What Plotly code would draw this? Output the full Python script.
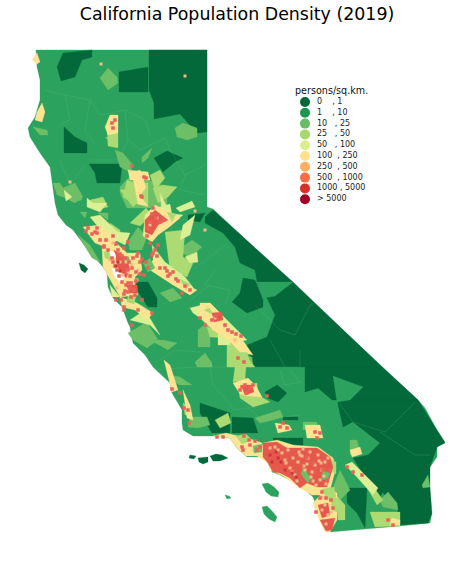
import plotly.graph_objects as go

# density classes, lightest map first
class_labels = ["0\u00a0\u00a0\u00a0\u00a0, 1", "1\u00a0\u00a0\u00a0\u00a0, 10", "10\u00a0\u00a0\u00a0, 25", "25\u00a0\u00a0\u00a0, 50",
                "50\u00a0\u00a0\u00a0, 100", "100\u00a0\u00a0, 250", "250\u00a0\u00a0, 500", "500\u00a0\u00a0, 1000",
                "1000 , 5000", "> 5000"]
class_colors = ["#006837", "#1a9850", "#66bd63", "#a6d96a", "#d9ef8b",
                "#fee08b", "#fdae61", "#f46d43", "#d73027", "#a50026"]
map_colors = ["#04693a", "#2ba25e", "#6cbf67", "#abdb72", "#dcef95",
              "#fde492", "#fbb56c", "#ea6a50", "#e5584c", "#b0283a"]

# state outline and tract groups (map units)
state = [(36,50),(207,50),(207,207),(213,209),(418,400),(425,408),(437,430),(445,442),(437,447),(437,457),(430,467),
         (425,483),(423,507),(432,513),(430,523),(400,526),(330,532),(325,523),(318,510),(313,497),(303,488),(290,480),
         (280,475),(272,472),(268,463),(263,457),(247,457),(237,448),(230,438),(213,436),(193,436),(183,430),(182,423),
         (182,410),(172,393),(170,383),(160,373),(153,367),(145,355),(133,343),(130,327),(128,323),(122,307),(113,298),
         (108,287),(107,273),(103,267),(88,250),(82,242),(73,230),(66,225),(58,215),(55,203),(50,167),(40,153),(30,137),
         (28,128),(35,117),(40,100),(40,80),(37,67)]
islands_0_1 = [[(190,455),(196,456),(194,459),(189,458)],[(198,458),(208,457),(208,462),(203,464),(199,462)],
               [(210,456),(216,454),(222,455),(228,458),(220,461),(213,461)],
               [(79,263),(84,265),(88,269),(85,273),(81,270)]]
islands_1_10 = [[(262,484),(268,483),(274,487),(279,492),(278,497),(271,496),(266,492)],
                [(225,495),(229,496),(231,498),(227,499)],
                [(262,507),(267,506),(272,511),(277,517),(275,522),(269,519),(264,514)]]

tracts_0_1 = [
    [(149,50),(207,50),(207,132),(197,133),(180,114),(154,119),(154,103),(149,90)],
    [(119,72),(148,67),(148,92),(119,92)],
    [(63,53),(92,50),(92,57),(82,60),(75,77),(61,81),(57,67)],
    [(64,127),(75,137),(87,143),(87,153),(64,153)],
    [(89,164),(122,164),(120,183),(97,183),(95,173)],
    [(154,158),(167,151),(183,158),(175,162),(163,172)],
    [(205,217),(213,210),(293,282),(257,282),(255,270),(240,263),(235,247),(223,233),(205,223)],
    [(293,282),(382,367),(253,367),(247,345),(267,337),(272,322),(275,315),(268,300),(257,283)],
    [(243,278),(255,280),(263,300),(263,307),(247,313),(232,302),(240,293)],
    [(305,367),(382,367),(418,400),(332,400),(318,388),(305,392)],
    [(337,400),(418,400),(445,443),(437,447),(430,467),(430,487),(432,513),(428,523),(400,525),(397,507),(380,490),
     (367,480),(353,458),(368,455),(380,443),(353,422),(343,427)],
    [(200,403),(230,413),(230,433),(212,433),(200,413)],
    [(232,417),(253,418),(258,433),(232,433)],
    [(273,438),(303,438),(303,450),(287,449),(275,445)],
    [(347,488),(367,488),(365,528),(357,513),(347,503)],
    [(375,488),(385,488),(380,497)],
    [(283,417),(298,417),(298,420),(283,420)],
    [(265,392),(277,385),(287,393),(278,402),(267,398)],
    [(133,282),(148,282),(157,298),(157,307),(148,307),(140,295)],
    [(188,215),(205,213),(200,222),(188,220)],
]
patches_1_10 = [
    [(257,282),(293,282),(275,296),(264,298)],
    [(333,376),(363,387),(350,400),(337,402)],
]
tracts_10_25 = [
    [(100,78),(108,68),(117,77),(118,83),(108,90)],
    [(175,128),(183,123),(197,128),(197,137),(187,140),(177,137)],
    [(33,127),(47,130),(48,135),(40,135)],
    [(105,137),(117,137),(118,145),(110,143)],
    [(115,150),(123,153),(133,165),(130,172),(120,167)],
    [(53,183),(60,183),(63,188),(75,183),(83,197),(75,203),(63,197),(57,195)],
    [(120,187),(133,173),(147,173),(148,180),(167,187),(177,187),(167,197),(167,208),(127,208),(120,193)],
    [(142,157),(152,148),(148,158),(142,163)],
    [(138,227),(147,237),(142,250),(130,250),(128,242)],
    [(80,212),(87,212),(85,218)],
    [(98,213),(108,213),(108,220)],
    [(70,192),(80,192),(82,200),(72,202)],
    [(160,293),(173,288),(182,298),(170,302)],
    [(128,333),(147,322),(158,340),(147,348),(133,340)],
    [(150,340),(163,340),(177,343),(168,350)],
    [(195,362),(205,353),(212,363),(212,367),(197,367)],
    [(227,353),(252,357),(253,367),(227,367)],
    [(170,375),(180,377),(192,385),(180,385),(170,380)],
    [(190,417),(207,417),(210,425),(198,428),(188,427)],
    [(255,418),(265,415),(280,410),(283,417),(273,420),(260,423)],
    [(303,422),(317,422),(317,428),(303,430)],
    [(350,440),(357,440),(360,452),(350,455)],
    [(380,500),(388,492),(397,503),(398,510),(383,507)],
    [(422,485),(428,475),(430,487),(423,488)],
    [(198,330),(210,320),(210,347),(198,347)],
    [(178,250),(192,240),(202,247),(190,258)],
    [(340,470),(350,490),(340,500),(332,490)],
    [(78,235),(90,245),(100,262),(92,258)],
]
tracts_25_50 = [
    [(165,232),(185,230),(183,257),(193,263),(187,277),(170,270)],
    [(235,367),(246,367),(245,380),(233,382)],
    [(238,385),(257,383),(258,395),(270,402),(253,407),(240,398)],
    [(360,475),(367,478),(383,500),(377,505)],
    [(107,127),(118,133),(118,148),(108,146)],
    [(127,180),(135,183),(148,183),(148,207),(133,203),(123,197)],
    [(150,175),(160,170),(165,178),(155,190)],
    [(90,200),(103,197),(108,207),(95,210)],
    [(183,403),(188,407),(192,415),(185,415)],
    [(370,512),(400,512),(400,526),(375,527)],
    [(130,223),(146,208),(152,215),(140,226)],
    [(120,190),(137,188),(142,198),(133,207)],
    [(153,188),(163,185),(177,187),(168,197),(158,203)],
    [(110,223),(120,230),(120,240),(113,237)],
    [(207,327),(222,332),(227,338),(210,337)],
    [(227,340),(247,357),(255,367),(227,367)],
    [(215,420),(228,413),(231,423),(220,428)],
    [(336,495),(345,505),(345,520),(338,520)],
]
tracts_50_100 = [
    [(183,225),(195,215),(190,235),(180,240)],
    [(150,210),(170,204),(172,215),(155,222)],
    [(90,217),(100,215),(118,232),(130,233),(125,245),(105,235)],
    [(64,190),(72,197),(66,201)],
    [(190,308),(210,303),(237,330),(247,340),(233,343),(213,327),(193,313)],
    [(152,245),(165,262),(185,277),(195,290),(180,283),(155,265)],
    [(176,208),(192,201),(195,207),(180,212)],
    [(130,320),(145,310),(160,335),(150,325)],
    [(218,328),(232,332),(230,345),(218,345)],
    [(87,198),(93,203),(107,203),(100,212),(87,207)],
    [(160,193),(165,203),(170,213),(162,213)],
    [(167,213),(183,215),(173,223)],
    [(185,257),(197,252),(198,262),(190,263)],
    [(110,285),(120,297),(112,297)],
    [(345,465),(352,462),(378,488),(373,495),(355,475)],
]
tracts_100_250 = [
    [(32,60),(37,53),(40,62),(37,64)],
    [(37,112),(42,103),(45,112),(42,122),(35,120)],
    [(105,127),(110,115),(118,115),(118,133),(108,135)],
    [(132,173),(140,170),(146,187),(140,196),(148,206),(138,204)],
    [(102,247),(113,240),(127,253),(140,253),(142,270),(135,277),(135,287),(138,295),(120,297),(110,280),(103,267)],
    [(83,227),(100,225),(117,240),(108,248),(95,243)],
    [(145,215),(155,205),(180,218),(168,228),(158,235),(152,242),(143,236)],
    [(153,247),(160,263),(180,283),(197,290),(190,295),(173,285),(147,268),(153,260)],
    [(120,297),(137,303),(153,313),(147,320),(135,310),(122,307)],
    [(200,303),(210,303),(217,310),(228,327),(237,332),(247,347),(253,355),(240,352),(228,340),(213,330),(200,318)],
    [(233,383),(248,378),(256,386),(262,397),(248,396),(240,394)],
    [(164,360),(170,365),(178,390),(172,392)],
    [(183,390),(190,405),(193,420),(187,418)],
    [(213,436),(226,433),(254,440),(262,443),(268,463),(257,456),(246,456),(237,448),(230,438)],
    [(263,443),(277,440),(293,445),(318,447),(333,458),(336,468),(330,490),(325,495),(312,495),(300,488),(283,476),(270,470)],
    [(313,503),(327,488),(337,493),(337,520),(330,532),(325,532),(318,517)],
    [(275,423),(289,425),(292,430),(278,433)],
    [(305,425),(320,425),(323,438),(307,438)],
    [(350,450),(360,447),(362,454),(352,457)],
    [(392,518),(400,520),(400,525),(390,525)],
    [(128,170),(148,172),(150,180),(130,180)],
]
fringe_25_50 = [
    [(236,436),(246,434),(252,440),(242,444)],
    [(326,458),(336,462),(336,474),(330,470)],
    [(322,489),(334,487),(336,497),(327,500)],
    [(331,498),(337,498),(337,512),(332,510)],
    [(104,252),(110,250),(110,260),(105,258)],
    [(128,296),(136,296),(134,304),(127,302)],
    [(180,279),(190,284),(186,290)],
    [(215,316),(209,308),(204,310)],
    [(167,212),(176,214),(172,222)],
    [(238,354),(247,352),(250,362),(241,362)],
]
fringe_10_25 = [
    [(303,468),(311,478),(308,483),(301,474)],
    [(323,471),(330,473),(327,480),(321,479)],
    [(253,446),(262,444),(262,452),(254,453)],
    [(143,263),(150,258),(155,268),(148,272)],
    [(123,258),(128,256),(130,260),(125,262)],
]
tracts_500_5000 = [
    [(263,443),(277,442),(287,448),(317,448),(330,457),(333,467),(327,487),(317,487),(307,483),(300,488),(290,478),
     (280,473),(273,472),(268,463),(263,457)],
    [(318,505),(328,503),(330,515),(322,518)],
    [(320,520),(335,518),(332,530),(326,531)],
    [(145,220),(155,210),(168,220),(158,225),(152,235),(145,232)],
    [(114,250),(127,258),(130,270),(126,278),(118,268)],
    [(126,285),(137,285),(138,293),(130,293)],
    [(241,385),(252,385),(254,392),(245,395)],
    [(212,313),(222,312),(223,320),(214,322)],
]
water_holes = [
    [(109,250),(115,253),(116,258),(111,256)],
    [(112,268),(118,270),(124,279),(120,282),(114,276)],
]

# individual small tracts as points
hot_x = [113,115,112,117,119,122,126,130,128,134,122,118,125,129,133,137,140,132,136,127,130,124,116,120,108,104,140,131,125,135,124,128,
         150,156,160,148,152,164,147,95,100,97,106,113,155,157,153,158,167,170,165,173,148,178,185,190,160,
         216,212,225,232,236,241,228,200,205,242,250,247,240,253,245,172,180,184,188,189,
         217,223,242,243,250,260,257,280,287,283,315,320,317,307,313,323,330,327,347,353,362,388,393,
         112,115,113,132,142,153,146,132,138,142,152,97,141,144,128,
         88,92,86,104,116,124,138,142,144,136,131,121,124,146,150,152,168,176,182,
         267,244,249,255,238,244,322,326,331,333,316,320]
hot_y = [262,266,258,270,276,282,285,288,292,290,256,250,258,262,258,256,262,268,272,270,276,248,244,254,250,246,274,283,291,295,294,283,
         222,218,222,228,214,220,236,232,240,228,240,236,250,256,253,245,271,274,268,272,268,281,286,290,268,
         316,320,325,332,334,336,330,318,325,387,388,393,390,385,385,389,393,408,410,423,
         437,437,447,450,445,447,450,427,428,423,432,433,438,457,463,470,470,480,467,472,475,520,525,
         123,120,128,166,197,208,178,325,310,300,313,233,196,177,242,
         228,234,231,247,300,310,253,259,275,281,297,300,307,262,243,255,276,279,293,
         396,436,440,441,358,362,492,498,500,508,512,498]
pale_x = [285,300,315,305,320,295,310,325,278,290,322,326,331,120,128,135,150,157,215,225,235,117,138,101,185,70,205,195,
          282,288,293,298,303,308,312,318,322,328,299,304,311,316,321,326,286,292,297,302,307,313,319,324,275,270,
          322,325,328,132,126,123,137,113,110]
pale_y = [460,455,465,470,480,475,452,462,450,468,510,524,512,262,272,282,225,218,318,326,340,288,270,64,76,182,230,211,
          453,450,458,462,449,458,472,455,470,458,452,466,477,485,463,484,463,472,481,456,464,481,461,476,447,448,
          497,505,515,265,262,275,280,243,260]
dark_red_x = [276,278,281,285,292,296,272,270,118,116,120]
dark_red_y = [452,458,462,470,473,477,462,455,262,266,271]

# tract and county lines
boundary_lines = [
    [(45,90),(65,95),(90,100),(100,115),(125,110),(145,120),(150,135)],
    [(65,95),(70,120),(60,125)],
    [(90,100),(85,130),(95,145)],
    [(125,110),(128,140),(140,150),(165,138),(170,150)],
    [(128,140),(118,160),(90,160)],
    [(60,160),(70,185),(85,165)],
    [(170,150),(185,175),(205,165)],
    [(185,175),(180,190),(205,195)],
    [(195,215),(180,250),(200,265),(225,245)],
    [(180,250),(170,225),(190,205)],
    [(215,270),(205,285),(230,290),(225,305)],
    [(190,300),(210,285)],
    [(160,360),(175,350),(200,352)],
    [(150,370),(195,367),(300,367)],
    [(210,367),(213,385),(235,410),(255,407)],
    [(280,370),(285,385),(300,382),(290,370)],
    [(255,305),(280,330),(295,335),(310,305),(315,303)],
    [(270,340),(285,367)],
    [(337,400),(353,422),(385,432),(415,402)],
    [(380,432),(415,455),(430,455)],
    [(300,350),(300,367)],
    [(240,400),(262,420),(300,415)],
]


def flatten(polygons):
    # polygons joined with gaps
    xs, ys = [], []
    for poly in polygons:
        xs += [p[0] for p in poly] + [poly[0][0], None]
        ys += [p[1] for p in poly] + [poly[0][1], None]
    return xs, ys


def add_class(fig, polygons, color):
    xs, ys = flatten(polygons)
    fig.add_trace(go.Scatter(x=xs, y=ys, mode="lines", fill="toself", fillcolor=color,
                             line=dict(width=0.3, color=color), hoverinfo="skip", showlegend=False))


fig = go.Figure()

add_class(fig, [state] + islands_1_10, map_colors[1])
add_class(fig, tracts_0_1 + islands_0_1, map_colors[0])
add_class(fig, patches_1_10, map_colors[1])

# boundary lines sit under the populated tracts
xs, ys = [], []
for line in boundary_lines:
    xs += [p[0] for p in line] + [None]
    ys += [p[1] for p in line] + [None]
fig.add_trace(go.Scatter(x=xs, y=ys, mode="lines", line=dict(width=0.4, color="rgba(120,205,140,0.45)"),
                         hoverinfo="skip", showlegend=False))

add_class(fig, tracts_10_25, map_colors[2])
add_class(fig, tracts_25_50, map_colors[3])
add_class(fig, tracts_50_100, map_colors[4])
add_class(fig, tracts_100_250, map_colors[5])
add_class(fig, fringe_25_50, map_colors[3])
add_class(fig, tracts_500_5000, map_colors[8])
add_class(fig, fringe_10_25, map_colors[2])
add_class(fig, water_holes, "white")

fig.add_trace(go.Scatter(x=pale_x, y=pale_y, mode="markers", hoverinfo="skip", showlegend=False,
                         marker=dict(symbol="square", size=3, color="#f6b98a")))
fig.add_trace(go.Scatter(x=hot_x, y=hot_y, mode="markers", hoverinfo="skip", showlegend=False,
                         marker=dict(symbol="square", size=3.5, color="#e9625a")))
fig.add_trace(go.Scatter(x=dark_red_x, y=dark_red_y, mode="markers", hoverinfo="skip", showlegend=False,
                         marker=dict(symbol="square", size=3, color="#c9353f")))

# legend drawn by hand so the rows can sit as tight as the original
legend_y = [102 + i * 10.8 for i in range(len(class_labels))]
fig.add_trace(go.Scatter(x=[305] * len(class_labels), y=legend_y, mode="markers", hoverinfo="skip", showlegend=False,
                         marker=dict(size=10, color=class_colors)))
fig.add_trace(go.Scatter(x=[317] * len(class_labels), y=legend_y, mode="text", text=class_labels,
                         textposition="middle right", hoverinfo="skip", showlegend=False,
                         textfont=dict(family="DejaVu Sans", size=8, color="#222222")))

fig.add_annotation(x=331, y=90, text="persons/sq.km.", showarrow=False,
                   font=dict(family="DejaVu Sans", size=9.6, color="#111111"))

fig.update_layout(
    title=dict(text="California Population Density (2019)", x=0.5, y=1 - 14 / 565, xanchor="center", yanchor="middle",
               font=dict(family="DejaVu Sans", size=17.4, color="black")),
    margin=dict(l=0, r=0, t=0, b=0),
    paper_bgcolor="white", plot_bgcolor="white",
    xaxis=dict(range=[0, 474], visible=False),
    yaxis=dict(range=[565, 0], visible=False),
    showlegend=False,
)

# drop the page's body margin so the figure fills the whole window
fig.write_html("out.html", config={"displayModeBar": False},
               post_script="document.body.style.margin='0'; Plotly.Plots.resize(document.getElementById('{plot_id}'));")
